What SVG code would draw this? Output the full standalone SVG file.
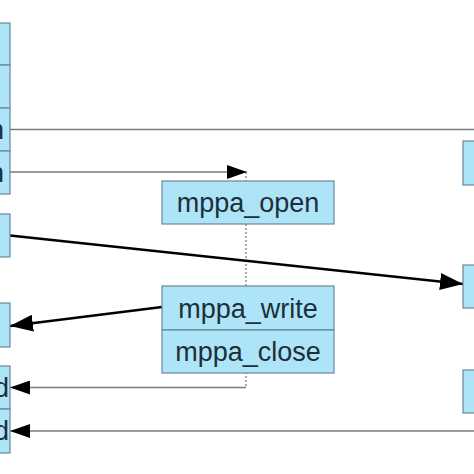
<svg xmlns="http://www.w3.org/2000/svg" width="474" height="474" viewBox="0 0 474 474">
<style>
.box{fill:#aee4f8;stroke:#6a8796;stroke-width:1.2}
.t{font-family:"Liberation Sans",Arial,sans-serif;font-size:27px;fill:#1c2f3a}
.thin{stroke:#7a7a7a;stroke-width:1.3;fill:none}
.thick{stroke:#000;stroke-width:2.6;fill:none}
.dot{stroke:#777;stroke-width:1.2;stroke-dasharray:2,2;fill:none}
</style>
<defs>
<marker id="ah" markerWidth="20" markerHeight="14" refX="20" refY="7" orient="auto" markerUnits="userSpaceOnUse">
<path d="M0,0 L20,7 L0,14 Z" fill="#000"/>
</marker>
<marker id="ahb" markerWidth="23" markerHeight="17" refX="23" refY="8.5" orient="auto" markerUnits="userSpaceOnUse">
<path d="M0,0 L23,8.5 L0,17 Z" fill="#000"/>
</marker>
</defs>
<rect width="474" height="474" fill="#fff"/>
<g id="connectors">
<line class="thin" x1="10" y1="129.5" x2="474" y2="129.5"/>
<line class="thin" x1="10" y1="172" x2="247" y2="172" marker-end="url(#ah)"/>
<polyline class="dot" points="246,172 246,387.5"/>
<line class="thin" x1="246" y1="387.5" x2="10" y2="387.5" marker-end="url(#ah)"/>
<line class="thin" x1="474" y1="431" x2="10" y2="431" marker-end="url(#ah)"/>
<line class="thick" x1="10" y1="235.5" x2="463" y2="284" marker-end="url(#ahb)"/>
<line class="thick" x1="162" y1="307" x2="10" y2="326" marker-end="url(#ahb)"/>
</g>
<g id="left1"><rect class="box" x="-20" y="23" width="30" height="42"/></g>
<g id="left2"><rect class="box" x="-20" y="65" width="30" height="43"/></g>
<g id="left3"><rect class="box" x="-20" y="108" width="30" height="43"/><text class="t" x="4" y="139" text-anchor="end">n</text></g>
<g id="left4"><rect class="box" x="-20" y="151" width="30" height="43"/><text class="t" x="4" y="182" text-anchor="end">n</text></g>
<g id="left5"><rect class="box" x="-20" y="214" width="30" height="43"/></g>
<g id="left6"><rect class="box" x="-20" y="303" width="30" height="44"/></g>
<g id="left7"><rect class="box" x="-20" y="366" width="30" height="43"/><text class="t" x="9" y="397" text-anchor="end">d</text></g>
<g id="left8"><rect class="box" x="-20" y="409" width="30" height="44"/><text class="t" x="9" y="440" text-anchor="end">d</text></g>
<g id="right1"><rect class="box" x="463" y="141" width="30" height="44"/></g>
<g id="right2"><rect class="box" x="463" y="265" width="30" height="43"/></g>
<g id="right3"><rect class="box" x="463" y="370" width="30" height="43"/></g>
<g id="mppa_open"><rect class="box" x="162" y="181" width="172" height="43"/><text class="t" x="248" y="212" text-anchor="middle">mppa_open</text></g>
<g id="mppa_write"><rect class="box" x="162" y="286" width="172" height="44"/><text class="t" x="248" y="318" text-anchor="middle">mppa_write</text></g>
<g id="mppa_close"><rect class="box" x="162" y="330" width="172" height="43"/><text class="t" x="248" y="361" text-anchor="middle">mppa_close</text></g>
</svg>
